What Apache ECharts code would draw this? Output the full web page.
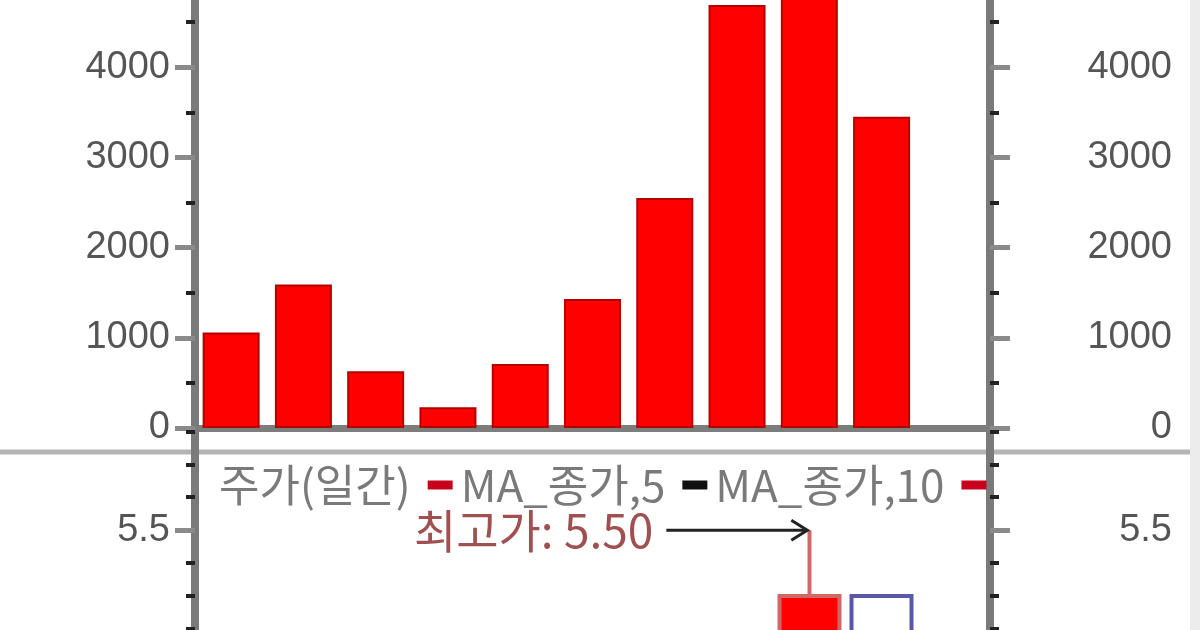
<!DOCTYPE html>
<html>
<head>
<meta charset="utf-8">
<script src="https://cdn.jsdelivr.net/npm/echarts@6/dist/echarts.min.js"></script>
<style>
  html, body { margin: 0; padding: 0; background: #fff; }
  #chart { width: 1200px; height: 630px; }
</style>
</head>
<body>
<div id="chart"></div>
<script>
// days shown on the chart (labels are hidden in the crop)
const days = ["1", "2", "3", "4", "5", "6", "7", "8", "9", "10", "11"];

// volume (thousand shares)
const volume = [1060, 1590, 630, 230, 710, 1430, 2550, 4690, 4980, 3450, null];

// daily price [open, close, low, high]; only the last two candles reach the visible band
const price = [
  [4.60, 4.70, 4.55, 4.75],
  [4.70, 4.85, 4.65, 4.90],
  [4.85, 4.80, 4.75, 4.90],
  [4.80, 4.78, 4.75, 4.85],
  [4.78, 4.85, 4.75, 4.90],
  [4.85, 4.95, 4.80, 5.00],
  [4.95, 5.05, 4.90, 5.10],
  [5.05, 5.15, 5.00, 5.18],
  [5.10, 5.30, 5.05, 5.50],
  [5.30, 5.15, 5.10, 5.30],
  "-"
];
const ma5 = ["-", "-", "-", "-", 4.80, 4.83, 4.86, 4.91, 5.02, 5.06, "-"];
const ma10 = ["-", "-", "-", "-", "-", "-", "-", "-", "-", 4.93, "-"];

const volTicks = { min: 0, max: 5000, interval: 1000 };
const priceTicks = { min: 5.0, max: 5.81, interval: 0.5 };

const chart = echarts.init(document.getElementById("chart"));

const labelFont = { fontFamily: "Liberation Sans", fontSize: 38, color: "#555" };
const majorTick = { show: true, length: 20, lineStyle: { color: "#8a8a8a", width: 5 } };
const axisLine = { show: true, lineStyle: { color: "#7a7a7a", width: 8 } };

function yAxis(grid, pos, ticks, split) {
  return {
    type: "value",
    gridIndex: grid,
    position: pos,
    min: ticks.min,
    max: ticks.max,
    interval: ticks.interval,
    axisLine: axisLine,
    axisTick: majorTick,
    minorTick: { show: true, splitNumber: split, length: 9, lineStyle: { color: "#222", width: 4 } },
    splitLine: { show: false },
    minorSplitLine: { show: false },
    axisLabel: Object.assign({
      showMaxLabel: false,
      align: "right",
      margin: pos === "left" ? 25 : 182,
      formatter: (v) => String(v)
    }, labelFont)
  };
}

chart.setOption({
  animation: false,
  backgroundColor: "#fff",
  grid: [
    { left: 195, right: 210, top: -23, bottom: 202, containLabel: false, outerBoundsMode: "none" },
    { left: 195, right: 210, top: 428, bottom: -65, containLabel: false, outerBoundsMode: "none" }
  ],
  legend: {
    data: [
      { name: "주가(일간)", icon: "rect", itemStyle: { color: "#c8001e", borderWidth: 0 } },
      { name: "MA_종가,5", icon: "rect", itemStyle: { color: "#111", borderWidth: 0 } },
      { name: "MA_종가,10", icon: "rect", itemStyle: { color: "#c8001e", borderWidth: 0 } }
    ],
    align: "right",
    left: 214,
    top: 458,
    itemWidth: 25,
    itemHeight: 9,
    itemGap: 8,
    selectedMode: false,
    textStyle: { fontFamily: "Noto Sans CJK KR", fontSize: 44, color: "#7a7a7a", padding: [0, 12, 0, 0] }
  },
  xAxis: [
    {
      type: "category", gridIndex: 0, data: days, boundaryGap: true,
      axisLine: { onZero: true, lineStyle: { color: "#7d7d7d", width: 7 } },
      axisTick: { show: false }, axisLabel: { show: false }
    },
    { type: "category", gridIndex: 1, data: days, boundaryGap: true, show: false }
  ],
  yAxis: [
    yAxis(0, "left", volTicks, 2),
    yAxis(0, "right", volTicks, 2),
    yAxis(1, "left", priceTicks, 5),
    yAxis(1, "right", priceTicks, 5)
  ],
  series: [
    {
      name: "거래량", type: "bar", xAxisIndex: 0, yAxisIndex: 0, data: volume, barWidth: 57,
      itemStyle: { color: "#ff0000", borderColor: "#b40000", borderWidth: 2 }
    },
    {
      name: "주가(일간)", type: "candlestick", xAxisIndex: 1, yAxisIndex: 2, data: price, barWidth: 60,
      itemStyle: { color: "#ff0000", color0: "#ffffff", borderColor: "#d06868", borderColor0: "#5858a8", borderWidth: 4 }
    },
    {
      name: "MA_종가,5", type: "line", xAxisIndex: 1, yAxisIndex: 2, data: ma5, symbol: "none",
      lineStyle: { color: "#111", width: 3 }
    },
    {
      name: "MA_종가,10", type: "line", xAxisIndex: 1, yAxisIndex: 2, data: ma10, symbol: "none",
      lineStyle: { color: "#c8001e", width: 3 }
    }
  ]
});

// highest price annotation, placed from the price scale
let hiIdx = 0;
price.forEach((d, i) => { if (d !== "-" && d[3] > price[hiIdx][3]) hiIdx = i; });
const hiVal = price[hiIdx][3];
const hp = chart.convertToPixel({ gridIndex: 1 }, [hiIdx, hiVal]);

chart.setOption({
  graphic: [
    { type: "line", shape: { x1: 0, y1: 452, x2: 1190, y2: 452 }, style: { stroke: "#b4b4b4", lineWidth: 5 }, z: -1 },
    { type: "rect", shape: { x: 1190, y: 0, width: 10, height: 630 }, style: { fill: "#ececec" }, z: 50 },
    {
      type: "text", z: 60,
      style: {
        text: "최고가: " + hiVal.toFixed(2), x: hp[0] - 156, y: hp[1],
        align: "right", verticalAlign: "middle",
        font: "46px 'Noto Sans CJK KR'", fill: "#a05050"
      }
    },
    { type: "line", z: 60, shape: { x1: hp[0] - 143, y1: hp[1], x2: hp[0] - 3, y2: hp[1] }, style: { stroke: "#222", lineWidth: 3 } },
    {
      type: "polyline", z: 60,
      shape: { points: [[hp[0] - 18, hp[1] - 10], [hp[0] - 2, hp[1]], [hp[0] - 18, hp[1] + 10]] },
      style: { stroke: "#222", lineWidth: 3, fill: null }
    }
  ]
});
</script>
</body>
</html>
